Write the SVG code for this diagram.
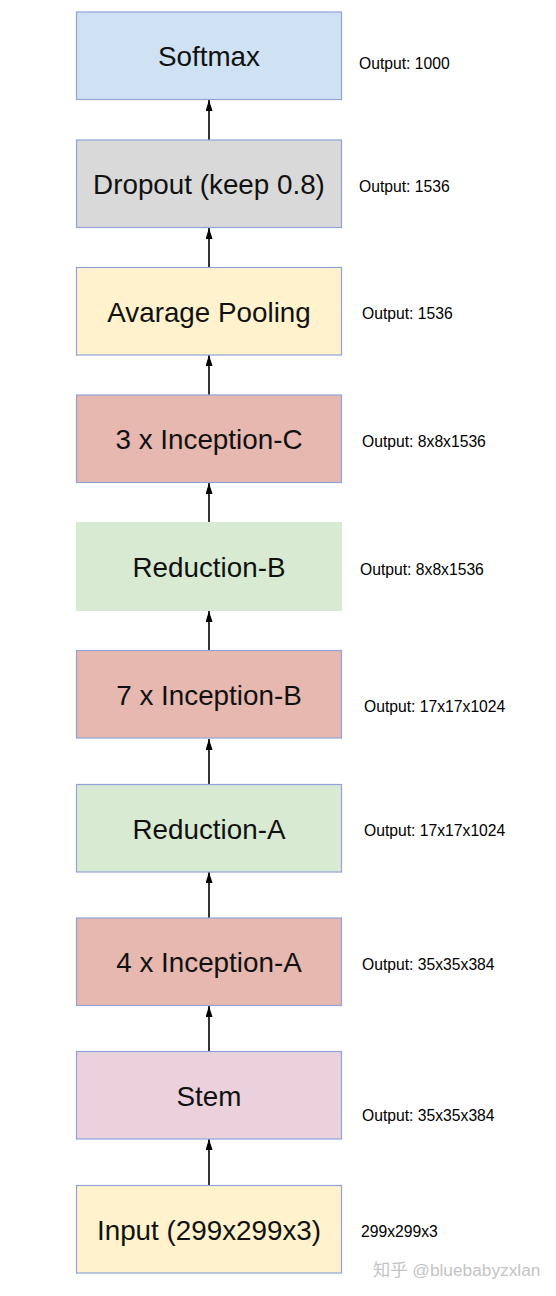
<svg xmlns="http://www.w3.org/2000/svg" width="556" height="1296" viewBox="0 0 556 1296">
<style>
.box{stroke:#8fa3d9;stroke-width:1.2}
.lbl{font-family:"Liberation Sans",Arial,sans-serif;font-size:27.8px;fill:#111;text-anchor:middle}
.out{font-family:"Liberation Sans",Arial,sans-serif;font-size:15.7px;fill:#000}
.conn{stroke:#000;stroke-width:1.6;fill:none;marker-end:url(#ah)}
.wm{font-family:"Liberation Sans","Noto Sans CJK SC",sans-serif;font-size:17.3px;fill:#c4c4c4}
</style>
<defs>
<marker id="ah" markerUnits="userSpaceOnUse" markerWidth="12" markerHeight="8" refX="11" refY="3.5" orient="auto">
<path d="M0,0 L11,3.5 L0,7 z" fill="#000"/>
</marker>
</defs>
<rect width="556" height="1296" fill="#fff"/>
<g id="connectors">
<line class="conn" x1="209" y1="140" x2="209" y2="100"/>
<line class="conn" x1="209" y1="267" x2="209" y2="228"/>
<line class="conn" x1="209" y1="395" x2="209" y2="355"/>
<line class="conn" x1="209" y1="522" x2="209" y2="483"/>
<line class="conn" x1="209" y1="650" x2="209" y2="611"/>
<line class="conn" x1="209" y1="784" x2="209" y2="739"/>
<line class="conn" x1="209" y1="918" x2="209" y2="872"/>
<line class="conn" x1="209" y1="1051" x2="209" y2="1006"/>
<line class="conn" x1="209" y1="1185" x2="209" y2="1139"/>
</g>
<g id="softmax">
<rect class="box" x="76.5" y="12" width="265" height="87.5" fill="#cfe2f3"/>
<text class="lbl" x="209" y="66">Softmax</text>
<text class="out" x="359" y="69">Output: 1000</text>
</g>
<g id="dropout">
<rect class="box" x="76.5" y="140" width="265" height="87.5" fill="#d9d9d9"/>
<text class="lbl" x="209" y="194">Dropout (keep 0.8)</text>
<text class="out" x="359" y="192">Output: 1536</text>
</g>
<g id="pooling">
<rect class="box" x="76.5" y="267.5" width="265" height="87.5" fill="#fff2cc"/>
<text class="lbl" x="209" y="322">Avarage Pooling</text>
<text class="out" x="362" y="319">Output: 1536</text>
</g>
<g id="inception-c">
<rect class="box" x="76.5" y="395" width="265" height="87.5" fill="#e6b8af"/>
<text class="lbl" x="209" y="449">3 x Inception-C</text>
<text class="out" x="362" y="447">Output: 8x8x1536</text>
</g>
<g id="reduction-b">
<rect x="76" y="522" width="266" height="89" fill="#d9ead3"/>
<text class="lbl" x="209" y="577">Reduction-B</text>
<text class="out" x="360" y="575">Output: 8x8x1536</text>
</g>
<g id="inception-b">
<rect class="box" x="76.5" y="650.5" width="265" height="87.5" fill="#e6b8af"/>
<text class="lbl" x="209" y="705">7 x Inception-B</text>
<text class="out" x="364" y="712">Output: 17x17x1024</text>
</g>
<g id="reduction-a">
<rect class="box" x="76.5" y="784.5" width="265" height="87.5" fill="#d9ead3"/>
<text class="lbl" x="209" y="839">Reduction-A</text>
<text class="out" x="364" y="836">Output: 17x17x1024</text>
</g>
<g id="inception-a">
<rect class="box" x="76.5" y="918" width="265" height="87.5" fill="#e6b8af"/>
<text class="lbl" x="209" y="972">4 x Inception-A</text>
<text class="out" x="362" y="970">Output: 35x35x384</text>
</g>
<g id="stem">
<rect class="box" x="76.5" y="1051.5" width="265" height="87.5" fill="#ead1dc"/>
<text class="lbl" x="209" y="1106">Stem</text>
<text class="out" x="362" y="1121">Output: 35x35x384</text>
</g>
<g id="input">
<rect class="box" x="76.5" y="1185.5" width="265" height="87.5" fill="#fff2cc"/>
<text class="lbl" x="209" y="1240">Input (299x299x3)</text>
<text class="out" x="361" y="1237">299x299x3</text>
</g>
<text class="wm" x="373" y="1276">知乎 @bluebabyzxlan</text>
</svg>
